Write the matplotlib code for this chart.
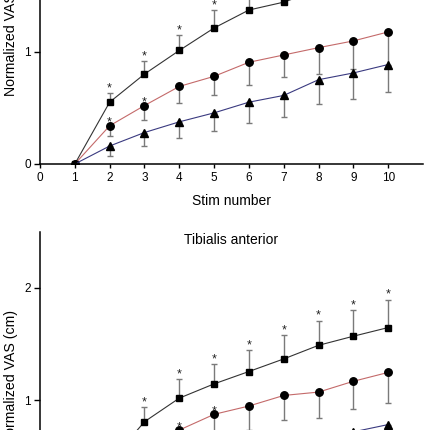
import numpy as np
import matplotlib
matplotlib.use("Agg")
import matplotlib.pyplot as plt

plt.rcParams["font.family"] = ["Liberation Sans", "DejaVu Sans"]

stim = np.arange(1, 11)

# top panel (muscle name cut off above the crop)
top_sq = [0, 0.55, 0.80, 1.01, 1.21, 1.37, 1.44, 1.55, 1.62, 1.70]
top_sq_err = [0, 0.085, 0.117, 0.14, 0.16, 0.18, 0.2, 0.2, 0.21, 0.22]
top_ci = [0, 0.34, 0.52, 0.69, 0.78, 0.905, 0.97, 1.035, 1.095, 1.175]
top_ci_err = [0, 0.09, 0.125, 0.145, 0.17, 0.20, 0.20, 0.235, 0.25, 0.30]
top_tr = [0, 0.16, 0.28, 0.375, 0.455, 0.55, 0.61, 0.75, 0.81, 0.885]
top_tr_err = [0, 0.09, 0.12, 0.14, 0.165, 0.185, 0.195, 0.215, 0.23, 0.245]
top_sq_star = [2, 3, 4, 5, 6, 7, 8, 9, 10]
top_ci_star = [2, 3]

# bottom panel - Tibialis anterior
bot_sq = [0, 0.45, 0.81, 1.02, 1.147, 1.257, 1.369, 1.49, 1.571, 1.648]
bot_sq_err = [0, 0.09, 0.128, 0.166, 0.178, 0.19, 0.211, 0.22, 0.229, 0.249]
bot_ci = [0, 0.30, 0.55, 0.736, 0.876, 0.95, 1.044, 1.074, 1.17, 1.249]
bot_ci_err = [0, 0.1, 0.15, 0.19, 0.2, 0.21, 0.219, 0.229, 0.25, 0.27]
bot_tr = [0, 0.15, 0.25, 0.33, 0.40, 0.47, 0.55, 0.62, 0.72, 0.785]
bot_tr_err = [0, 0.08, 0.1, 0.12, 0.14, 0.15, 0.17, 0.18, 0.2, 0.22]
bot_sq_star = [2, 3, 4, 5, 6, 7, 8, 9, 10]
bot_ci_star = [3, 4, 5]

W = 430.0
unit = 112.4


def draw(ax, sq, sq_err, ci, ci_err, tr, tr_err, sq_star, ci_star):
    zeros = np.zeros(len(stim))
    ax.errorbar(stim, sq, yerr=[zeros, sq_err], fmt="none", ecolor="#7a7a7a",
                elinewidth=1, capsize=2.5, capthick=1, zorder=2)
    ax.errorbar(stim, ci, yerr=[ci_err, zeros], fmt="none", ecolor="#7a7a7a",
                elinewidth=1, capsize=2.5, capthick=1, zorder=2)
    ax.errorbar(stim, tr, yerr=[tr_err, zeros], fmt="none", ecolor="#7a7a7a",
                elinewidth=1, capsize=2.5, capthick=1, zorder=2)
    ax.plot(stim, sq, color="#333333", lw=0.8, marker="s", ms=4.7,
            mfc="black", mec="black", zorder=3)
    ax.plot(stim, ci, color="#c46a6a", lw=0.8, marker="o", ms=5.4,
            mfc="black", mec="black", zorder=3)
    ax.plot(stim, tr, color="#3a3a80", lw=0.8, marker="^", ms=5.6,
            mfc="black", mec="black", zorder=3)
    for s in sq_star:
        i = s - 1
        ax.annotate("*", (s, sq[i] + sq_err[i]), xytext=(0, 1.2),
                    textcoords="offset points", ha="center", va="baseline",
                    fontsize=9, color="#222222")
    for s in ci_star:
        i = s - 1
        ax.annotate("*", (s, ci[i]), xytext=(0, 0),
                    textcoords="offset points", ha="center", va="baseline",
                    fontsize=9, color="#222222")

    ax.set_xlim(0, 11)
    ax.set_ylim(0, 2.5)
    ax.set_xticks(range(0, 11))
    ax.set_yticks([0, 1, 2])
    ax.spines["top"].set_visible(False)
    ax.spines["right"].set_visible(False)
    ax.spines["left"].set_linewidth(1.1)
    ax.spines["bottom"].set_linewidth(1.1)
    ax.tick_params(axis="x", direction="out", length=3, width=1, labelsize=8.5, pad=3)
    ax.tick_params(axis="y", direction="out", length=4.5, width=1, labelsize=8.5, pad=2)
    ax.set_ylabel("Normalized VAS (cm)", fontsize=10.2)
    ax.yaxis.set_label_coords(-0.058, 0.483)
    ax.set_xlabel("Stim number", fontsize=10)
    ax.xaxis.set_label_coords(0.5, -0.105)


fig = plt.figure(figsize=(4.3, 4.3), dpi=100)

h = 2.5 * unit / W
ax1 = fig.add_axes([40 / W, (W - 164) / W, 383 / W, h])
draw(ax1, top_sq, top_sq_err, top_ci, top_ci_err, top_tr, top_tr_err,
     top_sq_star, top_ci_star)

ax2 = fig.add_axes([40 / W, (W - 512.8) / W, 383 / W, h])
draw(ax2, bot_sq, bot_sq_err, bot_ci, bot_ci_err, bot_tr, bot_tr_err,
     bot_sq_star, bot_ci_star)
ax2.text(0.5, 0.97, "Tibialis anterior", transform=ax2.transAxes,
         ha="center", va="center", fontsize=10)

fig.savefig("out.png", dpi=100)
